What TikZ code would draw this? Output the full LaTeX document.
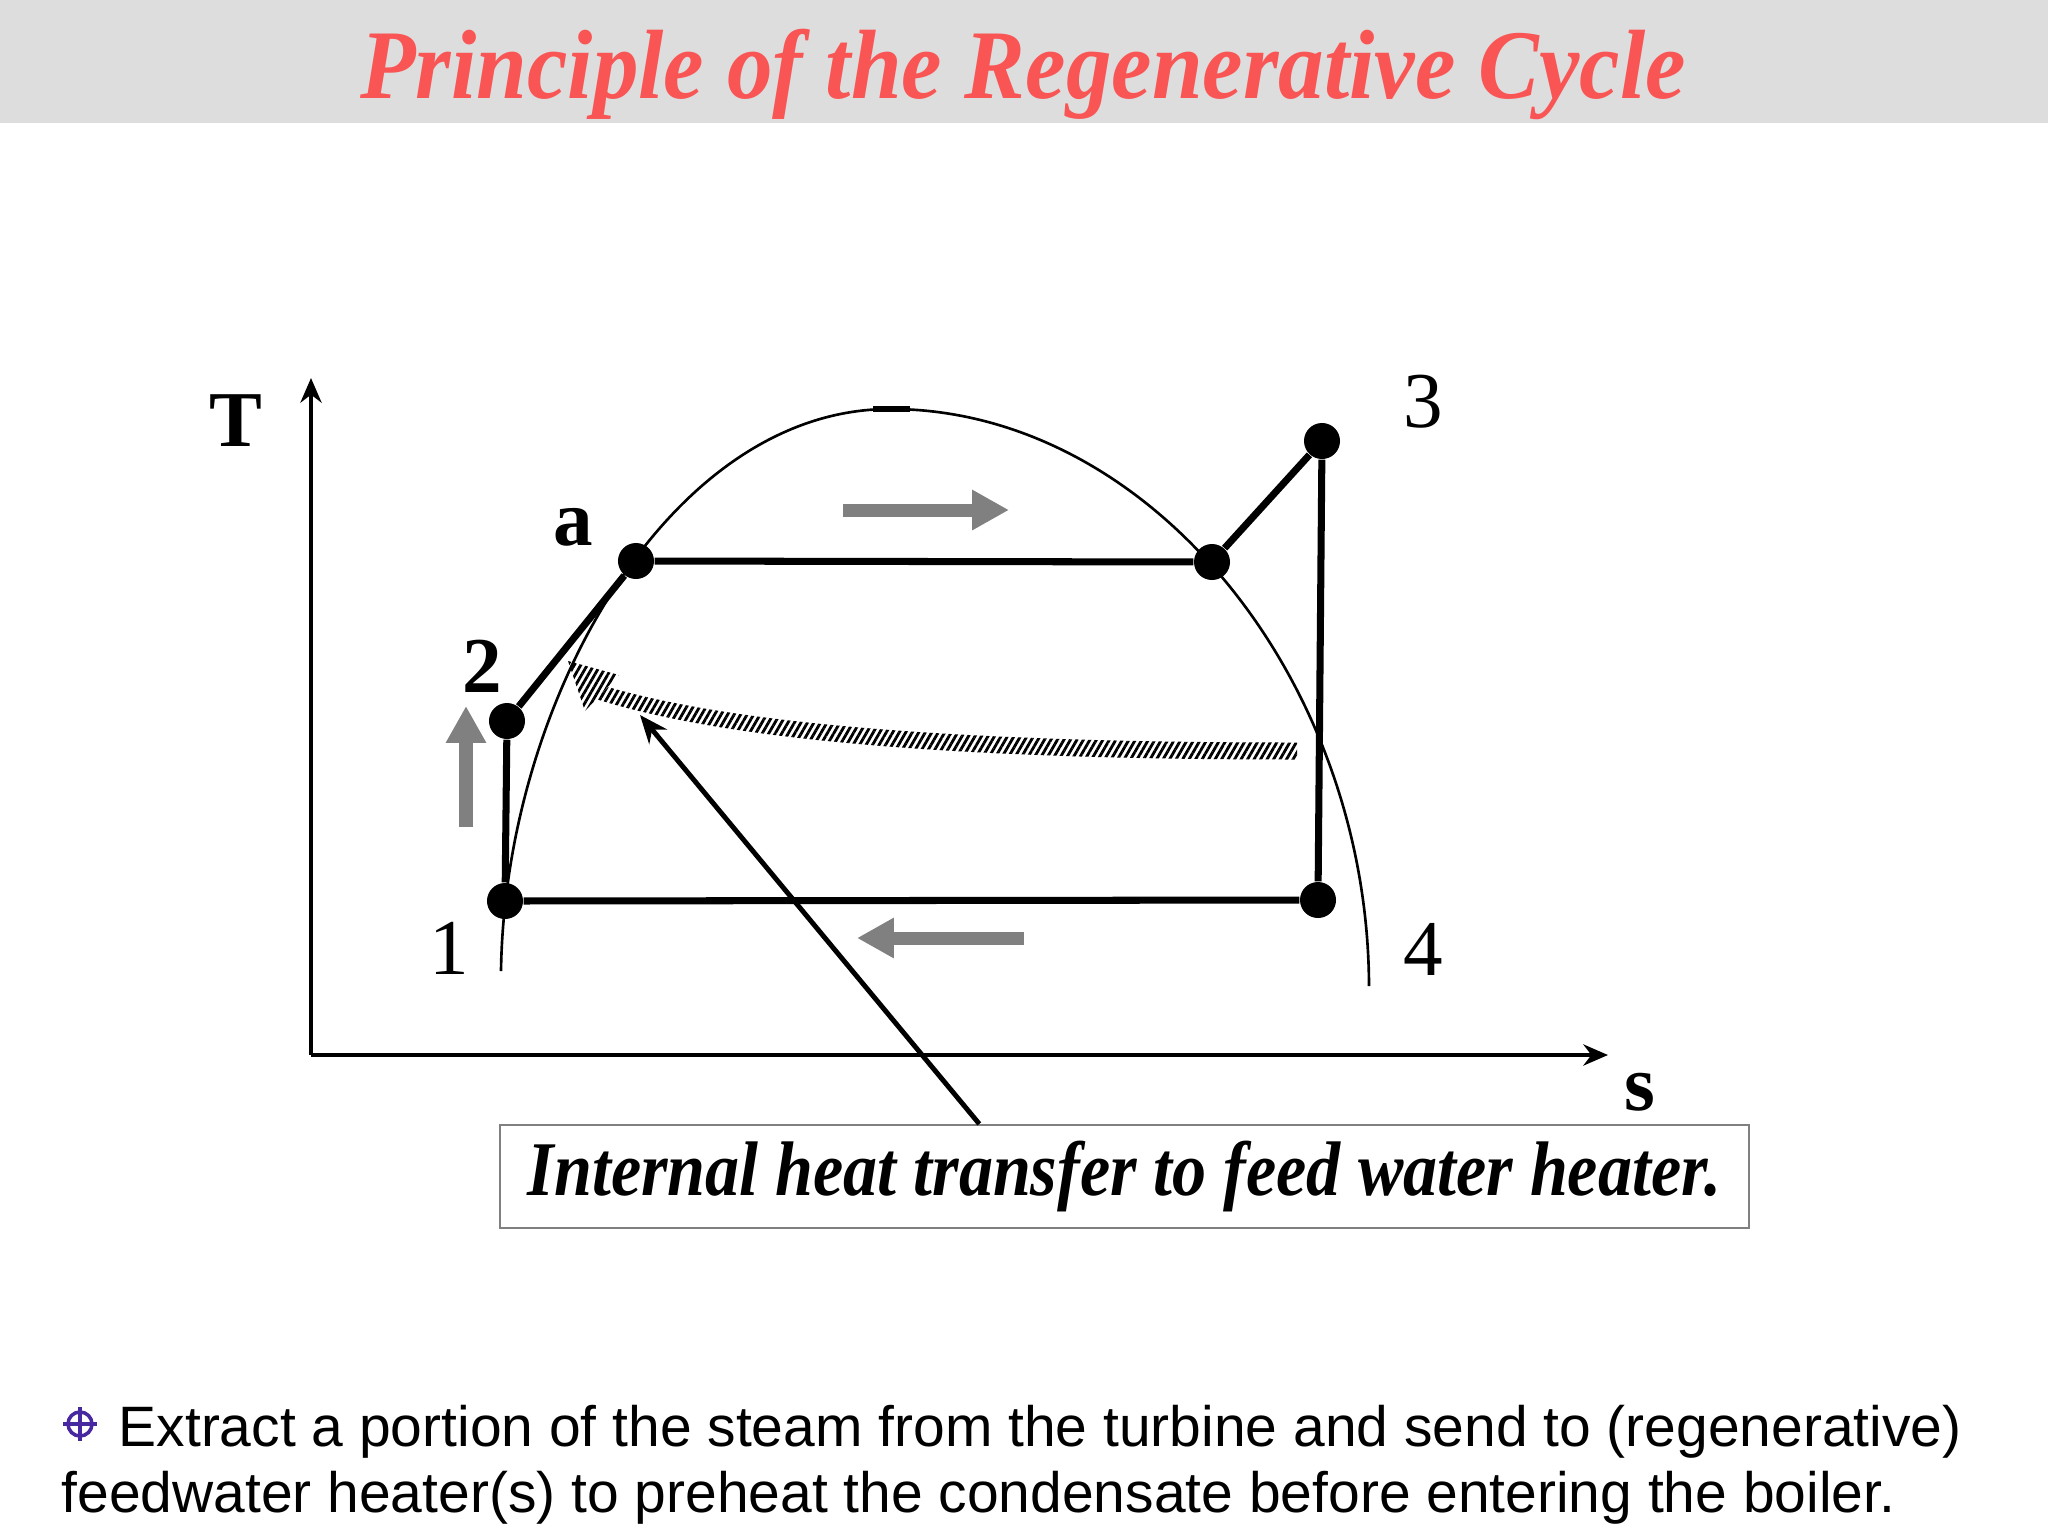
\documentclass[tikz,border=0pt]{standalone}
\usepackage{fontspec}
\setmainfont{Liberation Serif}
\setsansfont{Liberation Sans}
\newfontfamily\titleserif[FakeStretch=0.925]{Liberation Serif}
\newfontfamily\narrowserif[FakeStretch=0.88]{Liberation Serif}
\usetikzlibrary{calc}
\usetikzlibrary{arrows.meta}
\usetikzlibrary{patterns.meta}
\definecolor{titlered}{RGB}{250,85,85}
\definecolor{bandgray}{RGB}{221,221,221}
\definecolor{arrowgray}{RGB}{128,128,128}
\definecolor{bulletblue}{RGB}{72,40,160}
\tikzset{
	statestyle/.style={circle, fill=black, inner sep=0pt, minimum size=0.36cm},
	cyclestyle/.style={line width=2pt},
	axisstyle/.style={line width=1.4pt, -{Stealth[length=7pt, width=6pt]}},
	domestyle/.style={line width=0.75pt},
	flowstyle/.style={arrowgray, line width=3.7pt, -{Triangle[length=10.5pt, width=10.8pt]}},
	pointerstyle/.style={line width=1.4pt, -{Stealth[length=8pt, width=6.5pt]}},
	hatchstyle/.style={pattern={Lines[angle=60, distance=1.6pt, line width=0.8pt]}},
	boldlabel/.style={inner sep=0pt, font=\fontsize{22.5}{26}\selectfont\bfseries},
	numlabel/.style={inner sep=0pt, font=\fontsize{22.5}{26}\selectfont},
	titlestyle/.style={inner sep=0pt, text=titlered, font={\titleserif\fontsize{28}{32}\selectfont\bfseries\itshape}},
	captionbox/.style={draw=arrowgray, line width=0.6pt, minimum width=12.49cm, minimum height=1.03cm,
		font={\narrowserif\fontsize{22}{26}\selectfont\bfseries\itshape}},
	bodystyle/.style={inner sep=0pt, font={\sffamily\fontsize{16.2}{19}\selectfont}},
	bulletstyle/.style={circle, draw=bulletblue, line width=1pt, inner sep=0pt, minimum size=0.24cm}
}

\begin{document}
\begin{tikzpicture}[x=0.01cm, y=-0.01cm]
	\useasboundingbox (0,0) rectangle (2048,1536);
	\fill[bandgray] (0,0) rectangle (2048,123);
	\node[titlestyle, anchor=base] (title) at (1023,98) {Principle of the Regenerative Cycle};
	% axes
	\coordinate (origin) at (311,1055);
	\coordinate (ytip) at (311,378);
	\coordinate (xtip) at (1608,1055);
	\draw[axisstyle] (origin) -- (ytip);
	\draw[axisstyle] (origin) -- (xtip);
	\node[boldlabel] (tlabel) at (236,421) {T};
	\node[boldlabel] (slabel) at (1640,1092) {s};
	% saturation dome
	\draw[domestyle] (501,971) .. controls (505,700) and (670,409) .. (890,409)
		.. controls (1150,409) and (1368,680) .. (1369,986);
	\draw[line width=1.5pt] (873,409) -- (910,409);
	% hatched heat transfer arrow
	\fill[hatchstyle] (1297,742.5) .. controls (1050,742.5) and (765,733) .. (608,687)
		-- (596,699) .. controls (755,750) and (1050,759.5) .. (1297,759.5) -- cycle;
	\fill[hatchstyle] (568,661) -- (619,675) -- (585,711) -- cycle;
	% cycle
	\node[statestyle] (p1) at (505,901) {};
	\node[statestyle] (p2) at (507,721) {};
	\node[statestyle] (pa) at (636,561) {};
	\node[statestyle] (pb) at (1212,562) {};
	\node[statestyle] (p3) at (1322,441) {};
	\node[statestyle] (p4) at (1318,900) {};
	\draw[cyclestyle] (p1) -- (p2) -- (pa) -- (pb) -- (p3) -- (p4) -- (p1);
	\node[numlabel] (onelabel) at (449,948) {1};
	\node[boldlabel] (twolabel) at (482,666) {2};
	\node[boldlabel] (alabel) at (573,527) {a};
	\node[numlabel] (threelabel) at (1423,402) {3};
	\node[numlabel] (fourlabel) at (1423,949) {4};
	% process direction
	\draw[flowstyle] (843,510) -- (1009,510);
	\draw[flowstyle] (1024,938) -- (857,938);
	\draw[flowstyle] (466,827) -- (466,706);
	% caption
	\node[captionbox] (caption) at (1124.5,1176.5) {Internal heat transfer to feed water heater.};
	\coordinate (ptip) at (640,715);
	\draw[pointerstyle] ($(caption.north west)!0.384!(caption.north east)$) -- (ptip);
	% bullet text
	\node[bulletstyle] (bullet) at (80,1424) {};
	\draw[bulletblue, line width=1pt] (bullet.center) ++(-17,0) -- ++(34,0);
	\draw[bulletblue, line width=1pt] (bullet.center) ++(0,-17) -- ++(0,34);
	\node[bodystyle, anchor=base west] (line1) at (118,1446) {Extract a portion of the steam from the turbine and send to (regenerative)};
	\node[bodystyle, anchor=base west] (line2) at (61,1512) {feedwater heater(s) to preheat the condensate before entering the boiler.};
\end{tikzpicture}
\end{document}
